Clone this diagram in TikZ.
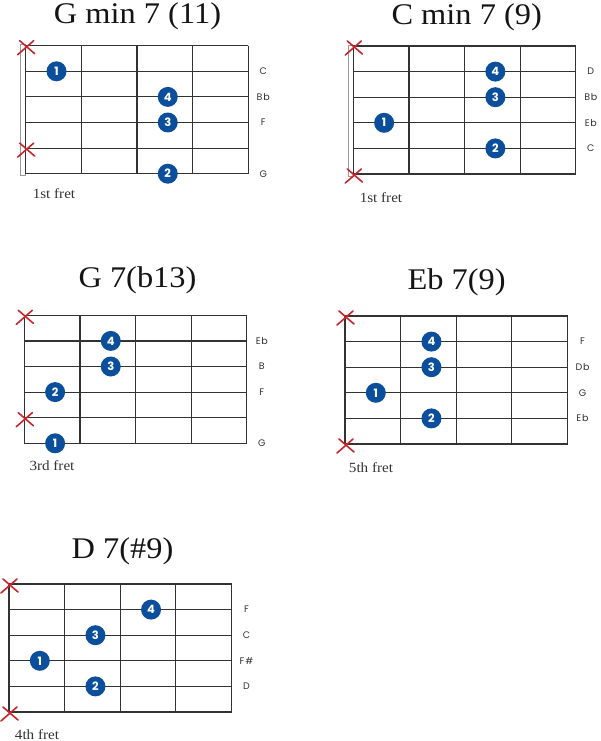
\documentclass[tikz,border=0pt]{standalone}
\usepackage{fontspec}
\newfontfamily\notefont[LetterSpace=8]{Poppins}
\newfontfamily\numfont{Poppins}
\newfontfamily\titlefont[FakeStretch=1.08]{Liberation Serif}
\definecolor{gridgray}{HTML}{333333}
\definecolor{dotblue}{HTML}{0B4F9C}
\definecolor{xred}{HTML}{C8262C}
\definecolor{nutgray}{HTML}{9A9A9A}
\tikzset{
  fretline/.style={draw=gridgray, line width=1.2pt},
  nutbar/.style={draw=nutgray, fill=white, line width=0.8pt},
  mutex/.style={draw=xred, line width=1.6pt, line cap=round},
  fingerdot/.style={circle, fill=dotblue, minimum size=20pt, inner sep=0pt,
    text=white, font=\numfont\bfseries\fontsize{11.5}{11.5}\selectfont},
  notelabel/.style={text=gridgray, font=\notefont\fontsize{9.5}{10}\selectfont, inner sep=0pt},
  chordtitle/.style={anchor=base, text=black!92, font=\titlefont\fontsize{30}{32}\selectfont, inner sep=0pt},
  fretnote/.style={anchor=base, text=gridgray, font=\titlefont\fontsize{14}{15}\selectfont, inner sep=0pt}
}
% #1 x0, #2 y0
\newcommand{\board}[2]{%
  \begin{scope}[shift={(#1,#2)}]
    \foreach \s in {0,...,5} \draw[fretline] (0,{\s*25.6}) -- (222.5,{\s*25.6});
    \foreach \f in {0,...,4} \draw[fretline] ({\f*55.625},0) -- ({\f*55.625},128);
  \end{scope}}
% #1 x0, #2 y0
\newcommand{\nutrect}[2]{%
  \draw[nutbar] ({#1-5},{#2-1}) rectangle ({#1},{#2+130});}
% #1 name, #2 x0, #3 y0, #4 fret, #5 string, #6 finger
\newcommand{\fing}[6]{%
  \node[fingerdot] (#1) at ({#2+(#4-0.5)*55.625+3},{#3+(#5-1)*25.6}) {#6};}
% #1 x0, #2 y0, #3 string
\newcommand{\mute}[3]{%
  \begin{scope}[shift={({#1},{#2+(#3-1)*25.6+2})}]
    \draw[mutex] (-8,7) -- (8,-7);
    \draw[mutex] (-6,-7) -- (9,6);
  \end{scope}}
% #1 name, #2 x0, #3 y0, #4 string, #5 text
\newcommand{\notename}[5]{%
  \node[notelabel] (#1) at ({#2+237.5},{#3+(#4-1)*25.6}) {#5};}
\begin{document}
\begin{tikzpicture}[x=1pt,y=-1pt]
\useasboundingbox (0,0) rectangle (600,741);
% ---------- G min 7 (11)
\node[chordtitle] (t1) at (137.5,24) {G min 7 (11)};
\nutrect{25.7}{45.7}
\board{25.7}{45.7}
\mute{25.7}{45.7}{1}
\mute{25.7}{45.7}{5}
\fing{a1}{25.7}{45.7}{1}{2}{1}
\fing{a4}{25.7}{45.7}{3}{3}{4}
\fing{a3}{25.7}{45.7}{3}{4}{3}
\fing{a2}{25.7}{45.7}{3}{6}{2}
\notename{an2}{25.7}{45.7}{2}{C}
\notename{an3}{25.7}{45.7}{3}{Bb}
\notename{an4}{25.7}{45.7}{4}{F}
\notename{an6}{25.7}{45.7}{6}{G}
\node[fretnote] (f1) at (54,198) {1st fret};
% ---------- C min 7 (9)
\node[chordtitle] (t2) at (466.7,24.5) {C min 7 (9)};
\nutrect{353.3}{46}
\board{353.3}{46}
\mute{353.3}{46}{1}
\mute{353.3}{46}{6}
\fing{b4}{353.3}{46}{3}{2}{4}
\fing{b3}{353.3}{46}{3}{3}{3}
\fing{b1}{353.3}{46}{1}{4}{1}
\fing{b2}{353.3}{46}{3}{5}{2}
\notename{bn2}{353.3}{46}{2}{D}
\notename{bn3}{353.3}{46}{3}{Bb}
\notename{bn4}{353.3}{46}{4}{Eb}
\notename{bn5}{353.3}{46}{5}{C}
\node[fretnote] (f2) at (381,202) {1st fret};
% ---------- G 7(b13)
\node[chordtitle] (t3) at (137.5,287.5) {G 7(b13)};
\board{24.3}{315.3}
\mute{24.3}{315.3}{1}
\mute{24.3}{315.3}{5}
\fing{c4}{24.3}{315.3}{2}{2}{4}
\fing{c3}{24.3}{315.3}{2}{3}{3}
\fing{c2}{24.3}{315.3}{1}{4}{2}
\fing{c1}{24.3}{315.3}{1}{6}{1}
\notename{cn2}{24.3}{315.3}{2}{Eb}
\notename{cn3}{24.3}{315.3}{3}{B}
\notename{cn4}{24.3}{315.3}{4}{F}
\notename{cn6}{24.3}{315.3}{6}{G}
\node[fretnote] (f3) at (52,470) {3rd fret};
% ---------- Eb 7(9)
\node[chordtitle] (t4) at (456.7,289) {Eb 7(9)};
\board{345}{316}
\mute{345}{316}{1}
\mute{345}{316}{6}
\fing{d4}{345}{316}{2}{2}{4}
\fing{d3}{345}{316}{2}{3}{3}
\fing{d1}{345}{316}{1}{4}{1}
\fing{d2}{345}{316}{2}{5}{2}
\notename{dn2}{345}{316}{2}{F}
\notename{dn3}{345}{316}{3}{Db}
\notename{dn4}{345}{316}{4}{G}
\notename{dn5}{345}{316}{5}{Eb}
\node[fretnote] (f4) at (371,472) {5th fret};
% ---------- D 7(#9)
\node[chordtitle] (t5) at (122.5,558) {D 7(\#9)};
\board{9}{584}
\mute{9}{584}{1}
\mute{9}{584}{6}
\fing{e4}{9}{584}{3}{2}{4}
\fing{e3}{9}{584}{2}{3}{3}
\fing{e1}{9}{584}{1}{4}{1}
\fing{e2}{9}{584}{2}{5}{2}
\notename{en2}{9}{584}{2}{F}
\notename{en3}{9}{584}{3}{C}
\notename{en4}{9}{584}{4}{F\#}
\notename{en5}{9}{584}{5}{D}
\node[fretnote] (f5) at (37,739) {4th fret};
\end{tikzpicture}
\end{document}
